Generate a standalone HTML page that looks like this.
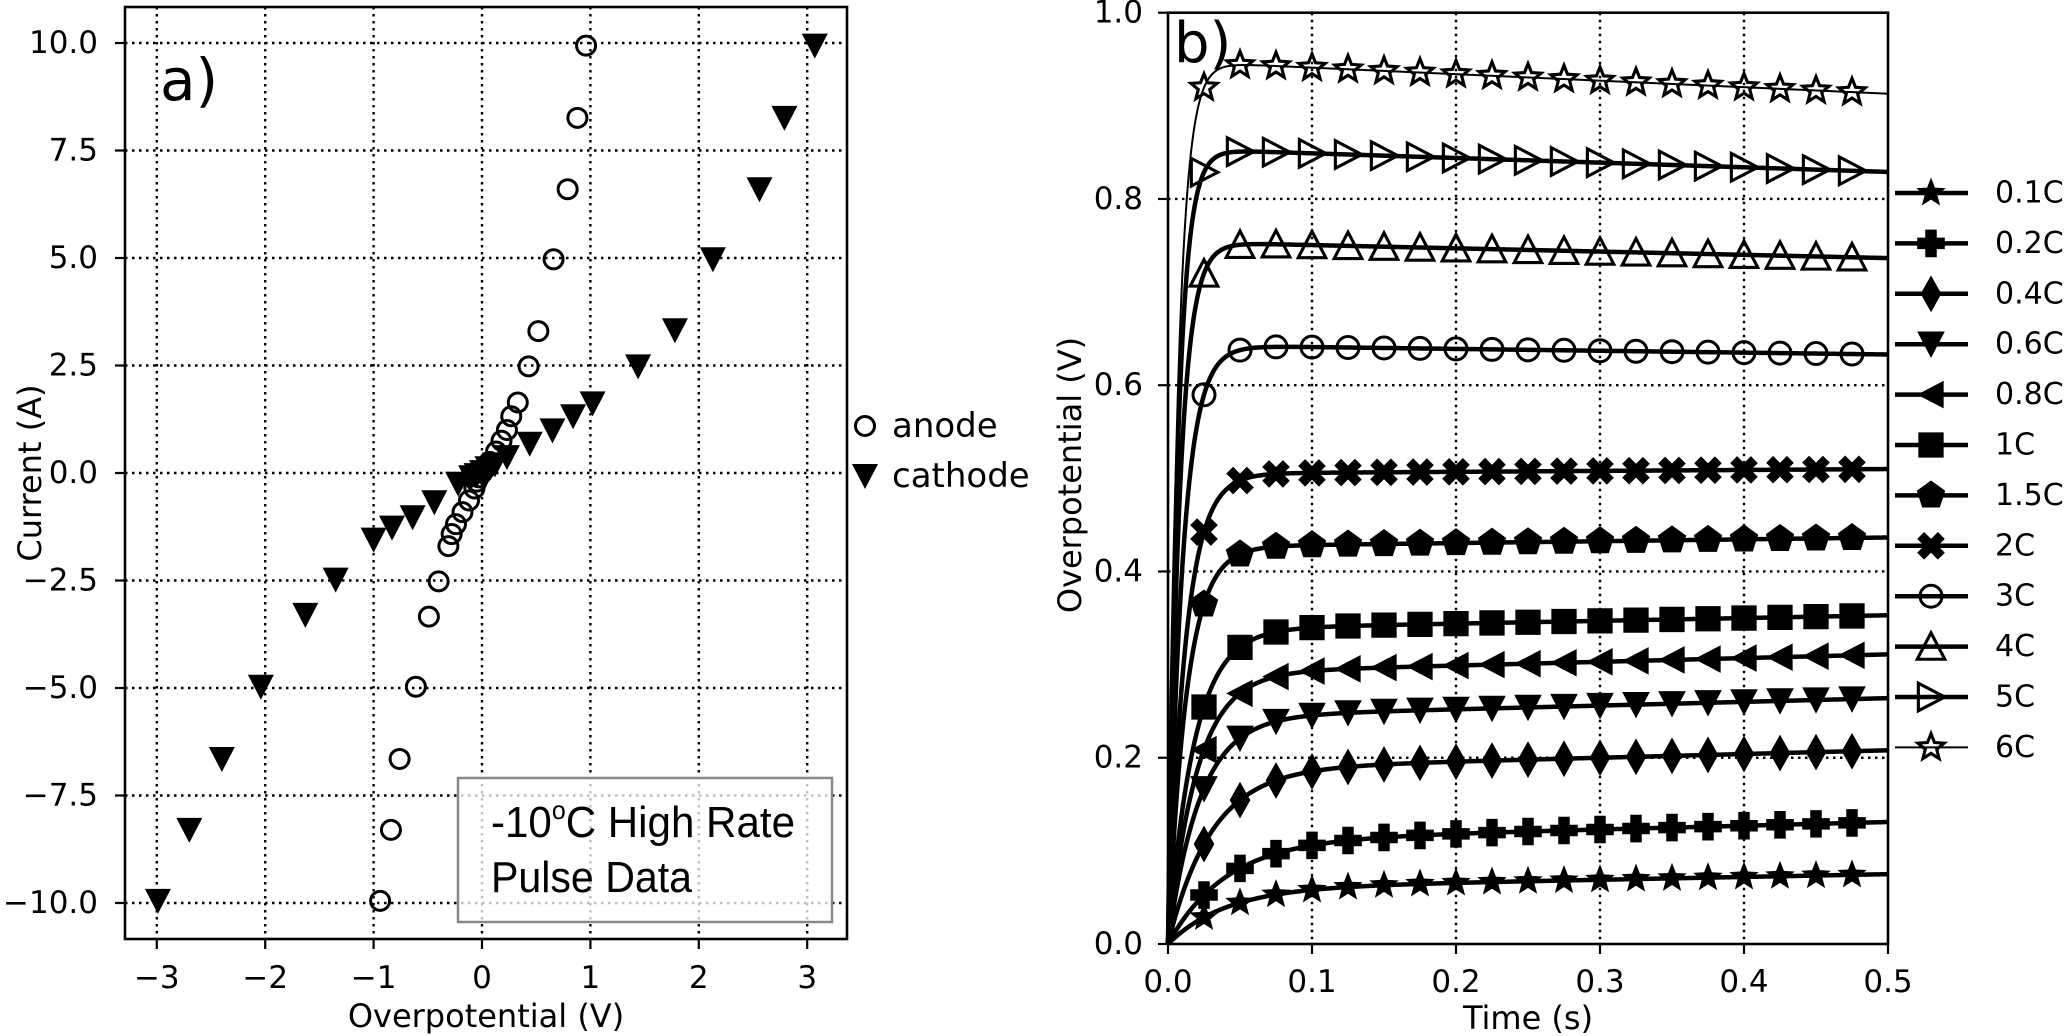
<!DOCTYPE html>
<html><head><meta charset="utf-8"><style>
html,body{margin:0;padding:0;background:#fff;}
svg{display:block;}
text{font-family:"DejaVu Sans","Liberation Sans",sans-serif;fill:#000;}
</style></head><body>
<svg id="s" width="2070" height="1036" viewBox="0 0 2070 1036" xmlns="http://www.w3.org/2000/svg">
<g id="grid" stroke="#000" stroke-width="2.4" stroke-dasharray="2.5 4.5" fill="none"></g>
<g id="data"></g>
<rect x="458" y="778" width="374" height="144" fill="#fff" fill-opacity="0.75" stroke="#888" stroke-width="2.5"/>
<text x="491" y="837" font-size="44" textLength="304" lengthAdjust="spacingAndGlyphs" style="font-family:'Liberation Sans',sans-serif">-10<tspan font-size="26" dy="-18">o</tspan><tspan dy="18">C High Rate</tspan></text>
<text x="491" y="892" font-size="44" textLength="201" lengthAdjust="spacingAndGlyphs" style="font-family:'Liberation Sans',sans-serif">Pulse Data</text>
<g id="axes" stroke="#000" fill="none"></g>
<g font-size="31" text-anchor="end" dominant-baseline="central">
<text x="98" y="43">10.0</text><text x="98" y="150.5">7.5</text><text x="98" y="258">5.0</text><text x="98" y="365.5">2.5</text><text x="98" y="473">0.0</text><text x="98" y="580.5">−2.5</text><text x="98" y="688">−5.0</text><text x="98" y="795.5">−7.5</text><text x="98" y="903">−10.0</text>
</g>
<g font-size="31" text-anchor="middle" dominant-baseline="central">
<text x="156.8" y="978">−3</text><text x="265.2" y="978">−2</text><text x="373.6" y="978">−1</text><text x="482" y="978">0</text><text x="590.4" y="978">1</text><text x="698.8" y="978">2</text><text x="807.2" y="978">3</text>
</g>
<text x="486" y="1016" font-size="32" text-anchor="middle" dominant-baseline="central">Overpotential (V)</text>
<text transform="translate(30,473) rotate(-90)" font-size="32" text-anchor="middle" dominant-baseline="central">Current (A)</text>
<text x="160" y="100" font-size="58">a)</text>
<circle cx="865" cy="426" r="9.5" fill="none" stroke="#000" stroke-width="3"/>
<path d="M852,464 L878,464 L865,489 Z" fill="#000"/>
<text x="892" y="426" font-size="34" dominant-baseline="central">anode</text>
<text x="892" y="476" font-size="34" dominant-baseline="central">cathode</text>
<g font-size="31" text-anchor="end" dominant-baseline="central">
<text x="1143" y="944">0.0</text><text x="1143" y="757.7">0.2</text><text x="1143" y="571.5">0.4</text><text x="1143" y="385.2">0.6</text><text x="1143" y="199">0.8</text><text x="1143" y="12.7">1.0</text>
</g>
<g font-size="31" text-anchor="middle" dominant-baseline="central">
<text x="1168" y="982">0.0</text><text x="1312" y="982">0.1</text><text x="1456" y="982">0.2</text><text x="1600" y="982">0.3</text><text x="1744" y="982">0.4</text><text x="1888" y="982">0.5</text>
</g>
<text x="1528" y="1018" font-size="32" text-anchor="middle" dominant-baseline="central">Time (s)</text>
<text transform="translate(1070,475) rotate(-90)" font-size="32" text-anchor="middle" dominant-baseline="central">Overpotential (V)</text>
<text x="1174" y="62" font-size="56">b)</text>
<g id="leg"></g>
<g font-size="30" dominant-baseline="central">
<text x="1995" y="193">0.1C</text><text x="1995" y="243.4">0.2C</text><text x="1995" y="293.8">0.4C</text><text x="1995" y="344.2">0.6C</text><text x="1995" y="394.6">0.8C</text><text x="1995" y="445">1C</text><text x="1995" y="495.4">1.5C</text><text x="1995" y="545.8">2C</text><text x="1995" y="596.2">3C</text><text x="1995" y="646.6">4C</text><text x="1995" y="697">5C</text><text x="1995" y="747.4">6C</text>
</g>
</svg>
<script>
(function(){
var NS="http://www.w3.org/2000/svg";
function el(parent,tag,attrs){var e=document.createElementNS(NS,tag);for(var k in attrs)e.setAttribute(k,attrs[k]);parent.appendChild(e);return e;}
var grid=document.getElementById('grid'),axes=document.getElementById('axes'),data=document.getElementById('data'),leg=document.getElementById('leg');
var LX0=482,LSX=108.4,LY0=473,LSY=43;
var L={x1:125,x2:847,y1:7,y2:939};
for(var v=-3;v<=3;v++){var x=LX0+LSX*v;el(grid,'line',{x1:x,x2:x,y1:L.y1,y2:L.y2});el(axes,'line',{x1:x,x2:x,y1:L.y2,y2:L.y2+10,'stroke-width':2.2});}
for(var a=-10;a<=10;a+=2.5){var y=LY0-LSY*a;el(grid,'line',{x1:L.x1,x2:L.x2,y1:y,y2:y});el(axes,'line',{x1:L.x1-10,x2:L.x1,y1:y,y2:y,'stroke-width':2.2});}
el(axes,'rect',{x:L.x1,y:L.y1,width:L.x2-L.x1,height:L.y2-L.y1,'stroke-width':2.6});
var anode=[[0.96,9.94],[0.88,8.26],[0.79,6.6],[0.66,4.97],[0.52,3.3],[0.43,2.48],[0.33,1.64],[0.27,1.32],[0.23,1.0],[0.18,0.75],[0.13,0.5],[0.07,0.26],[0.03,0.1],[0.0,0.0],[-0.03,-0.1],[-0.05,-0.2],[-0.07,-0.36],[-0.12,-0.64],[-0.18,-0.91],[-0.24,-1.19],[-0.28,-1.42],[-0.31,-1.7],[-0.4,-2.52],[-0.49,-3.34],[-0.61,-4.97],[-0.76,-6.65],[-0.84,-8.3],[-0.94,-9.95]];
var cath=[[3.07,9.94],[2.79,8.26],[2.56,6.6],[2.13,4.97],[1.78,3.32],[1.44,2.48],[1.02,1.62],[0.84,1.32],[0.65,0.99],[0.44,0.68],[0.23,0.37],[0.12,0.2],[0.05,0.11],[0.0,0.02],[-0.05,-0.05],[-0.1,-0.1],[-0.22,-0.25],[-0.44,-0.68],[-0.64,-1.03],[-0.83,-1.27],[-1.0,-1.55],[-1.35,-2.48],[-1.63,-3.3],[-2.04,-4.97],[-2.4,-6.65],[-2.7,-8.3],[-2.99,-9.95]];
cath.forEach(function(p){var x=LX0+LSX*p[0],y=LY0-LSY*p[1];el(data,'path',{d:'M'+(x-13)+','+(y-12)+' L'+(x+13)+','+(y-12)+' L'+x+','+(y+13)+' Z',fill:'#000'});});
anode.forEach(function(p){var x=LX0+LSX*p[0],y=LY0-LSY*p[1];el(data,'circle',{cx:x,cy:y,r:9.5,fill:'none',stroke:'#000','stroke-width':3});});
var RX0=1168,RSX=1440,RY0=944,RSY=931.3;
var R={x1:1168,x2:1888,y1:12.7,y2:944};
for(var t=0.1;t<0.45;t+=0.1){var x=RX0+RSX*t;el(grid,'line',{x1:x,x2:x,y1:R.y1,y2:R.y2});}
for(var k=0;k<=5;k++){var x=RX0+RSX*0.1*k;el(axes,'line',{x1:x,x2:x,y1:R.y2,y2:R.y2+10,'stroke-width':2.2});}
for(var k=1;k<=4;k++){var y=RY0-RSY*0.2*k;el(grid,'line',{x1:R.x1,x2:R.x2,y1:y,y2:y});}
for(var k=0;k<=5;k++){var y=RY0-RSY*0.2*k;el(axes,'line',{x1:R.x1-10,x2:R.x1,y1:y,y2:y,'stroke-width':2.2});}
el(axes,'rect',{x:R.x1,y:R.y1,width:R.x2-R.x1,height:R.y2-R.y1,'stroke-width':2.6});
function poly(n,R0,r0,rot){var s='';var m=r0?2*n:n;for(var i=0;i<m;i++){var rr=(r0&&i%2)?r0:R0;var ang=-Math.PI/2+i*Math.PI*2/m+(rot||0);s+=(i?'L':'M')+(rr*Math.cos(ang)).toFixed(2)+','+(rr*Math.sin(ang)).toFixed(2);}return s+'Z';}
var M={
star:{d:poly(5,13.5,5.8),f:1},
plus:{d:'M-5,-12H5V-5H12V5H5V12H-5V5H-12V-5H-5Z',f:1},
dia:{d:'M0,-16L9,0L0,16L-9,0Z',f:1},
tdown:{d:'M-12,-11L12,-11L0,12Z',f:1},
tleft:{d:'M-12,0L11,-12L11,12Z',f:1},
sq:{d:'M-11,-11H11V11H-11Z',f:1},
pent:{d:poly(5,13,0),f:1},
x:{d:'M-12,-6L-6,-12L0,-6L6,-12L12,-6L6,0L12,6L6,12L0,6L-6,12L-12,6L-6,0Z',f:1},
circ:{c:11,f:0},
tup:{d:'M0,-12L12,11L-12,11Z',f:0},
tright:{d:'M12,0L-11,-12L-11,12Z',f:0},
ostar:{d:poly(5,12,5.2),f:0}
};
var S=[
['star',.06,.04,.03,4.5],['plus',.111,.04,.04,4.5],['dia',.188,.03,.04,4.5],['tdown',.244,.022,.04,4.5],
['tleft',.291,.02,.04,4.5],['sq',.338,.018,.03,4.5],['pent',.4265,.013,.02,4.5],['x',.505,.012,.01,4.5],
['circ',.643,.01,-.02,4.5],['tup',.754,.008,-.035,4.5],['tright',.854,.007,-.05,4.5],['ostar',.948,.007,-.07,2]];
var SC=1.15;
function mk(parent,name,x,y){var m=M[name];
 if(m.c){el(parent,'circle',{cx:x,cy:y,r:m.c,fill:'none',stroke:'#000','stroke-width':3});}
 else if(m.f){el(parent,'path',{d:m.d,transform:'translate('+x+','+y+') scale('+SC+')',fill:'#000'});}
 else{el(parent,'path',{d:m.d,transform:'translate('+x+','+y+') scale('+SC+')',fill:'none',stroke:'#000','stroke-width':2.7});}}
S.forEach(function(s,i){
 var f=function(t){return s[1]*(1-Math.exp(-t/s[2]))+s[3]*t;};
 var d='';for(var j=0;j<=600;j++){var t=0.5*j/600;d+=(j?'L':'M')+(RX0+RSX*t).toFixed(2)+','+(RY0-RSY*f(t)).toFixed(2);}
 el(data,'path',{d:d,fill:'none',stroke:'#000','stroke-width':s[4],'stroke-linejoin':'round'});
 for(var k=1;k<=19;k++){var t=0.025*k;mk(data,s[0],RX0+RSX*t,RY0-RSY*f(t));}
 var ly=193+i*50.4;
 el(leg,'line',{x1:1895,x2:1968,y1:ly,y2:ly,stroke:'#000','stroke-width':s[4]});
 mk(leg,s[0],1931,ly);
});
})();
</script>
</body></html>
